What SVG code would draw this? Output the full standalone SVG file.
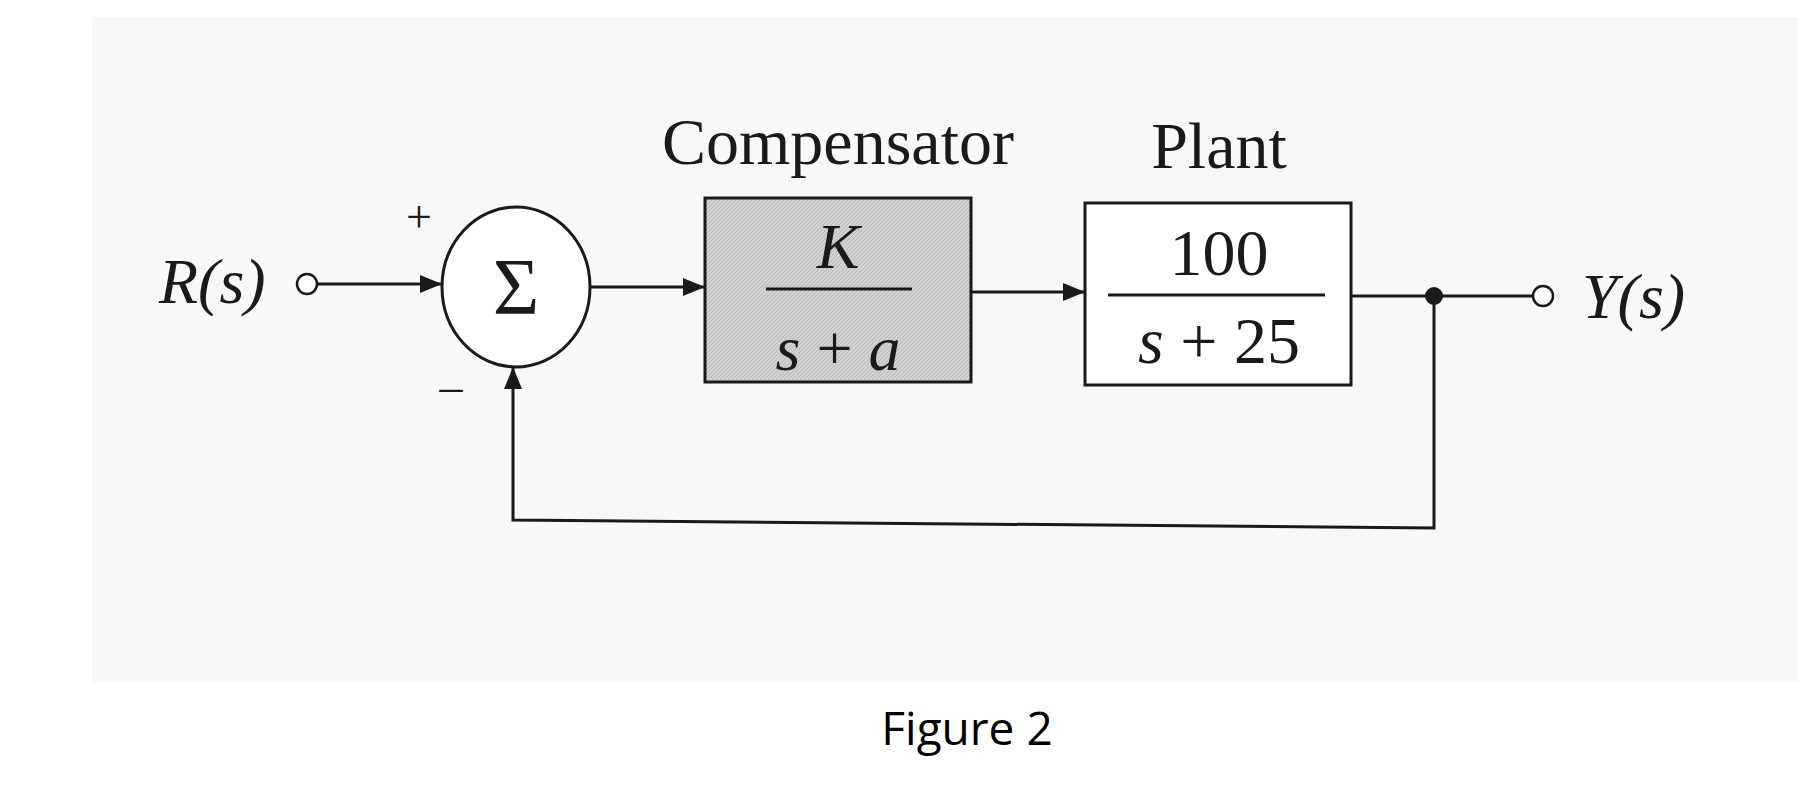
<svg xmlns="http://www.w3.org/2000/svg" width="1798" height="804" viewBox="0 0 1798 804">
<style>
.t{font-family:"Liberation Serif",serif;fill:#1a1a1a}
.i{font-style:italic}
.ln{stroke:#1a1a1a;stroke-width:3;fill:none}
.bx{stroke:#1a1a1a;stroke-width:3}
</style>
<defs>
<marker id="ah" markerWidth="22" markerHeight="18" refX="21" refY="9" orient="auto" markerUnits="userSpaceOnUse" viewBox="0 0 22 18">
<path d="M0,0 L22,9 L0,18 z" fill="#1a1a1a"/>
</marker>
<pattern id="hatch" width="4" height="4" patternUnits="userSpaceOnUse">
<rect width="4" height="4" fill="#d2d2d2"/>
<path d="M0,4 L4,0" stroke="#b8b8b8" stroke-width="1"/>
</pattern>
</defs>
<rect width="1798" height="804" fill="#ffffff"/>
<rect x="92" y="17" width="1706" height="665" fill="#f8f8f8"/>
<g id="input">
<text class="t i" x="159" y="303" font-size="64">R(s)</text>
<circle cx="307" cy="284" r="10" fill="#fff" stroke="#1a1a1a" stroke-width="2.5"/>
</g>
<g id="sum">
<ellipse cx="516" cy="287" rx="74" ry="80" fill="#fff" stroke="#1a1a1a" stroke-width="3"/>
<text class="t" x="516" y="314" font-size="80" text-anchor="middle">Σ</text>
<text class="t" x="419" y="232" font-size="46" text-anchor="middle">+</text>
<text class="t" x="451" y="402" font-size="46" text-anchor="middle">–</text>
</g>
<g id="compensator">
<text class="t" x="838" y="164" font-size="66" text-anchor="middle">Compensator</text>
<rect class="bx" x="705" y="198" width="266" height="184" fill="url(#hatch)"/>
<text class="t i" x="838" y="268" font-size="64" text-anchor="middle">K</text>
<line class="ln" x1="766" y1="289" x2="912" y2="289"/>
<text class="t" x="838" y="370" font-size="64" text-anchor="middle"><tspan font-style="italic">s</tspan> + <tspan font-style="italic">a</tspan></text>
</g>
<g id="plant">
<text class="t" x="1219" y="168" font-size="66" text-anchor="middle">Plant</text>
<rect class="bx" x="1085" y="203" width="266" height="182" fill="#fff"/>
<text class="t" x="1219" y="275" font-size="66" text-anchor="middle">100</text>
<line class="ln" x1="1108" y1="295" x2="1325" y2="295"/>
<text class="t" x="1219" y="363" font-size="66" text-anchor="middle"><tspan font-style="italic">s</tspan> + 25</text>
</g>
<g id="output">
<circle cx="1543" cy="296" r="10" fill="#fff" stroke="#1a1a1a" stroke-width="2.5"/>
<text class="t i" x="1582" y="318" font-size="64">Y(s)</text>
</g>
<g id="connectors">
<line class="ln" x1="317" y1="284" x2="441" y2="284" marker-end="url(#ah)"/>
<line class="ln" x1="590" y1="287" x2="704" y2="287" marker-end="url(#ah)"/>
<line class="ln" x1="971" y1="292" x2="1084" y2="292" marker-end="url(#ah)"/>
<line class="ln" x1="1351" y1="296" x2="1533" y2="296"/>
<circle cx="1434" cy="296" r="9" fill="#1a1a1a"/>
<polyline class="ln" points="1434,296 1434,528 513,520 513,368" marker-end="url(#ah)"/>
</g>
<text x="967" y="745" font-family="'Open Sans','Liberation Sans',sans-serif" font-size="46" text-anchor="middle" fill="#000">Figure 2</text>
</svg>
